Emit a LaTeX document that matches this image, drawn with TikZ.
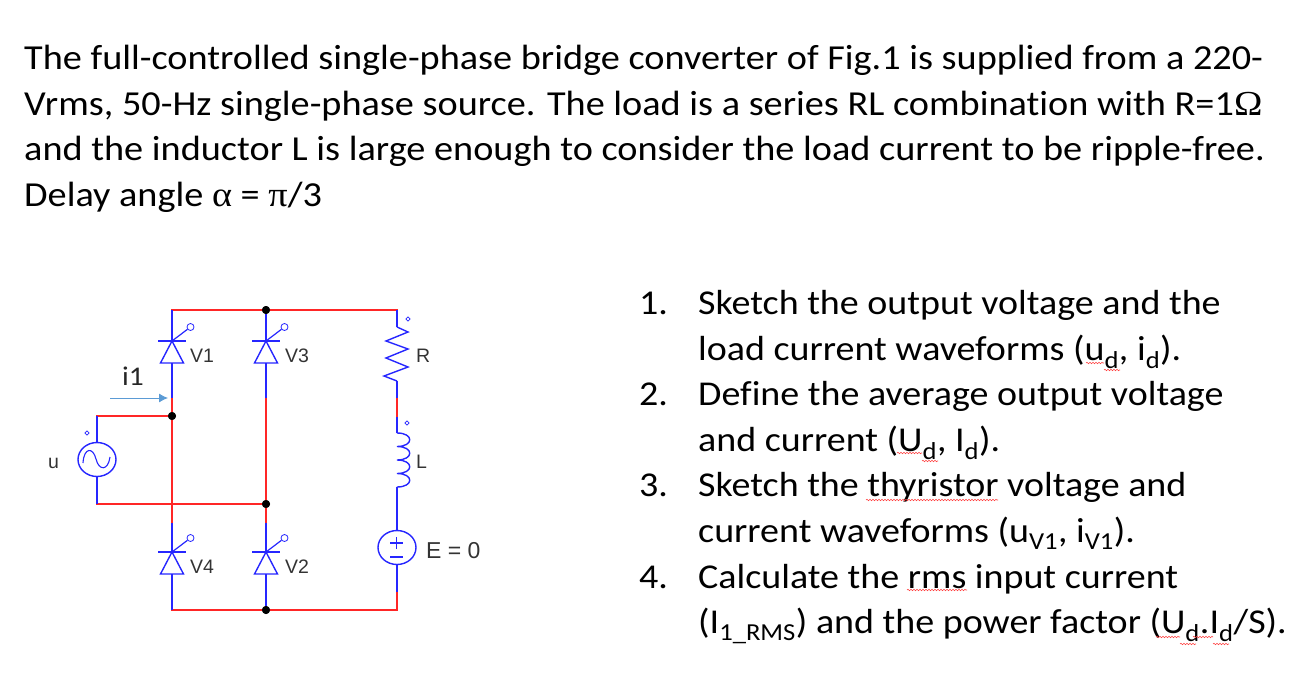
\documentclass[tikz,border=0pt]{standalone}
\usepackage{fontspec}
\setmainfont[FakeStretch=1.09, Ligatures=CommonOff]{Carlito}
\newfontfamily\symfont[FakeStretch=1.09]{Liberation Serif}
\newfontfamily\parts{Liberation Sans}
\usetikzlibrary{arrows.meta, decorations.pathmorphing, shapes.geometric}
\definecolor{arrowblue}{HTML}{5B9BD5}

\begin{document}
\begin{tikzpicture}[x=1pt, y=-1pt,
		redwire/.style = {draw=red!85!white, line width=1.7pt},
		bluewire/.style = {draw=blue!85!white, line width=1.9pt},
		junct/.style = {circle, fill=black, inner sep=0pt, minimum size=8pt},
		src/.style = {ellipse, draw=blue!85!white, line width=1.4pt, inner sep=0pt, minimum width=38pt, minimum height=34pt},
		mark dot/.style = {diamond, draw=blue!85!white, line width=0.7pt, inner sep=0pt, minimum size=4.5pt},
		line/.style = {anchor=base west, inner sep=0pt, font=\fontsize{35.1}{38}\selectfont},
		item/.style = {anchor=base west, inner sep=0pt, font=\fontsize{34.85}{38}\selectfont},
		part/.style = {anchor=base west, inner sep=0pt, text=black!80, font=\parts\fontsize{19.5}{22}\selectfont},
		squiggle/.style = {draw=red!75!white, line width=0.6pt, decorate, decoration={snake, amplitude=0.7pt, segment length=3pt}}]
	\useasboundingbox (0,0) rectangle (1291,680);

	% wiring
	\coordinate (tl) at (172,310);
	\coordinate (tr) at (397,310);
	\coordinate (bl) at (172,610);
	\coordinate (br) at (397,610);
	\coordinate (sa) at (97,416);
	\coordinate (sb) at (97,504);
	\node[junct] (j1) at (172,416) {};
	\node[junct] (j2) at (266,310) {};
	\node[junct] (j3) at (266,504) {};
	\node[junct] (j4) at (266,610) {};
	\coordinate (m1) at (172,398);
	\coordinate (m2) at (266,398);
	\coordinate (m4) at (172,523);
	\coordinate (m3) at (266,523);
	\coordinate (x4) at (172,504);
	\path[redwire, line cap=rect] (tl) -- (j2) -- (tr) (bl) -- (j4) -- (br);
	\path[redwire] (m1) -- (m4) (m2) -- (m3);
	\path[redwire, line cap=rect] (j1) -- (sa) (sb) -- (x4) -- (j3);

	% thyristors
	\foreach \name/\px/\py/\lx in {V1/172/341/190, V3/266/341/285, V4/172/552/190, V2/266/552/285} {
		\coordinate (\name) at (\px,\py);
		\coordinate (\name b) at (\px,\py+22);
		\path[bluewire, line width=1.5pt] (\px-14,\py) -- (\px+14,\py);
		\path[bluewire, line width=1.4pt] (\name) -- (\px+11.5,\py+22) -- (\px-11.5,\py+22) -- cycle;
		\node[circle, draw=blue!85!white, line width=0.8pt, inner sep=0pt, minimum size=7pt] (\name g) at (\px+18.5,\py-14) {};
		\path[bluewire, line width=1.2pt] (\name) -- (\name g);
		\node[part] (\name t) at (\lx,\py+21) {\name};
	}
	\path[bluewire] (tl) -- (V1) (V1b) -- (m1);
	\path[bluewire] (j2) -- (V3) (V3b) -- (m2);
	\path[bluewire] (m4) -- (V4) (V4b) -- (bl);
	\path[bluewire] (m3) -- (V2) (V2b) -- (j4);
	\node[junct] at (j1) {};
	\node[junct] at (j2) {};
	\node[junct] at (j3) {};
	\node[junct] at (j4) {};

	% source
	\node[src] (u1) at (97,459.5) {};
	\path[bluewire] (sa) -- (u1) (u1) -- (sb);
	\path[bluewire, line width=1.1pt] (83,463) .. controls (84,447) and (93,447) .. (96,459) .. controls (99,471) and (108,471) .. (110,457);
	\node[mark dot] (u1d) at (87,433) {};
	\node[part] (u1t) at (48,468) {u};

	% load
	\coordinate (r1) at (397,327);
	\coordinate (r2) at (397,381);
	\coordinate (l1) at (397,417);
	\coordinate (l1c) at (397,433);
	\coordinate (l2) at (397,487);
	\coordinate (rl) at (397,398);
	\coordinate (e2) at (397,592);
	\node[src] (e1) at (397,547.5) {};
	\path[redwire] (rl) -- (l1) (e2) -- (br);
	\path[bluewire] (tr) -- (r1) (r2) -- (rl) (l1) -- (l1c) (l2) -- (e1) (e1) -- (e2);
	\path[bluewire, line width=1.4pt] (r1) -- (408,332) -- (386,341) -- (408,349) -- (386,358) -- (408,367) -- (384,376) -- (r2);
	\path[bluewire, line width=1.4pt] (l1c) .. controls (414,433) and (414,446.5) .. (397,446.5)
		.. controls (414,446.5) and (414,460) .. (397,460)
		.. controls (414,460) and (414,473.5) .. (397,473.5)
		.. controls (414,473.5) and (414,487) .. (l2);
	\path[bluewire, line width=1.3pt] (390,543) -- (403,543) (396.5,537) -- (396.5,549) (390,557) -- (403,557);
	\node[mark dot] (rd) at (408,319) {};
	\node[mark dot] (ld) at (407,423) {};
	\node[part] (rt) at (416,362) {R};
	\node[part] (lt) at (416,468) {L};
	\node[part, font=\parts\fontsize{23}{26}\selectfont] (e1t) at (426,558) {E = 0};

	% current arrow
	\node[inner sep=0pt, anchor=base west, font=\fontsize{27}{30}\selectfont, text=black!85] (i1t) at (122,385) {i1};
	\coordinate (i1a) at (110,398);
	\coordinate (i1b) at (168,398);
	\draw[draw=arrowblue, line width=0.9pt, -{Latex[length=9pt, width=9pt]}] (i1a) -- (i1b);

	% question text
	\node[line] (q1) at (24,69) {The full-controlled single-phase bridge converter of Fig.1 is supplied from a 220-};
	\node[line] (q2) at (24,115) {Vrms, 50-Hz single-phase source. The load is a series RL combination with R=1{\symfont Ω}};
	\node[line] (q3) at (24,160) {and the inductor L is large enough to consider the load current to be ripple-free.};
	\node[line] (q4) at (24,206) {Delay angle {\symfont α} = {\symfont π}/3};

	% numbered list
	\foreach \num/\py in {1/314, 2/405, 3/496, 4/588} {
		\node[item] (n\num) at (639,\py) {\num.};
	}
	\node[item] (a1) at (698,314) {Sketch the output voltage and the};
	\node[item] (a2) at (698,360) {load current waveforms (u\textsubscript{d}, i\textsubscript{d}).};
	\node[item] (a3) at (698,405) {Define the average output voltage};
	\node[item] (a4) at (698,451) {and current (U\textsubscript{d}, I\textsubscript{d}).};
	\node[item] (a5) at (698,496) {Sketch the thyristor voltage and};
	\node[item] (a6) at (698,542) {current waveforms (u\textsubscript{V1}, i\textsubscript{V1}).};
	\node[item] (a7) at (698,588) {Calculate the rms input current};
	\node[item] (a8) at (698,633) {(I\textsubscript{1\_RMS}) and the power factor (U\textsubscript{d}.I\textsubscript{d}/S).};

	% spelling marks
	\foreach \xa/\xb/\py in {1086/1104/363, 1104/1120/370, 897/922/453, 922/938/461, 866/998/500, 907/967/590, 1156/1180/637, 1180/1196/644, 1193/1213/637, 1213/1229/644} {
		\path[squiggle] (\xa,\py) -- (\xb,\py);
	}
\end{tikzpicture}
\end{document}
